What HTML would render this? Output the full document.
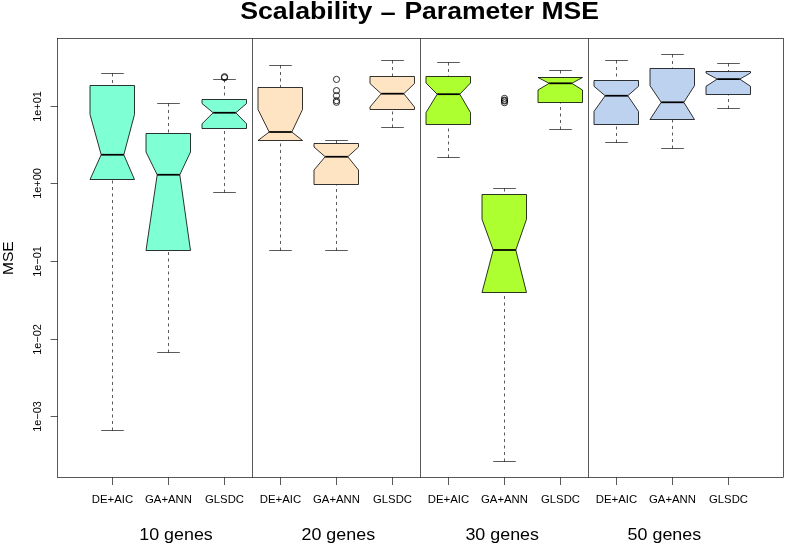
<!DOCTYPE html>
<html lang="en"><head><meta charset="utf-8"><title>Scalability - Parameter MSE</title>
<style>html,body{margin:0;padding:0;background:#fff}svg{display:block}</style></head>
<body>
<svg width="785" height="546" viewBox="0 0 785 546" font-family="&quot;Liberation Sans&quot;, Arial, Helvetica, sans-serif" fill="#000">
<rect width="785" height="546" fill="#fff"/>
<path d="M112.50 73.50V85.50M112.50 430.50V179.50" stroke="#000" stroke-width="0.65" stroke-dasharray="3 3.5" fill="none"/>
<path d="M101.20 73.50H123.80M101.20 430.50H123.80" stroke="#000" stroke-width="0.65" fill="none"/>
<path d="M90.00 85.50L134.50 85.50L134.50 114.50L123.80 154.75L134.50 179.50L134.50 179.50L90.00 179.50L90.00 179.50L101.20 154.75L90.00 114.50Z" fill="#7FFFD4" stroke="#000" stroke-width="0.8" stroke-linejoin="miter" stroke-miterlimit="2"/>
<path d="M101.20 154.75H123.80" stroke="#000" stroke-width="1.75" fill="none"/>
<path d="M168.50 103.50V133.50M168.50 352.50V250.50" stroke="#000" stroke-width="0.65" stroke-dasharray="3 3.5" fill="none"/>
<path d="M157.20 103.50H179.80M157.20 352.50H179.80" stroke="#000" stroke-width="0.65" fill="none"/>
<path d="M146.00 133.50L190.50 133.50L190.50 152.00L179.80 174.75L190.50 250.50L190.50 250.50L146.00 250.50L146.00 250.50L157.20 174.75L146.00 152.00Z" fill="#7FFFD4" stroke="#000" stroke-width="0.8" stroke-linejoin="miter" stroke-miterlimit="2"/>
<path d="M157.20 174.75H179.80" stroke="#000" stroke-width="1.75" fill="none"/>
<path d="M224.50 79.50V99.50M224.50 192.50V128.50" stroke="#000" stroke-width="0.65" stroke-dasharray="3 3.5" fill="none"/>
<path d="M213.20 79.50H235.80M213.20 192.50H235.80" stroke="#000" stroke-width="0.65" fill="none"/>
<path d="M202.00 99.50L246.50 99.50L246.50 103.50L235.80 112.75L246.50 123.75L246.50 128.50L202.00 128.50L202.00 123.75L213.20 112.75L202.00 103.50Z" fill="#7FFFD4" stroke="#000" stroke-width="0.8" stroke-linejoin="miter" stroke-miterlimit="2"/>
<path d="M213.20 112.75H235.80" stroke="#000" stroke-width="1.75" fill="none"/>
<circle cx="224.50" cy="76.70" r="3.1" fill="none" stroke="#000" stroke-width="0.8"/>
<circle cx="224.50" cy="77.70" r="3.1" fill="none" stroke="#000" stroke-width="0.8"/>
<path d="M280.50 65.50V87.50M280.50 250.50V140.50" stroke="#000" stroke-width="0.65" stroke-dasharray="3 3.5" fill="none"/>
<path d="M269.20 65.50H291.80M269.20 250.50H291.80" stroke="#000" stroke-width="0.65" fill="none"/>
<path d="M258.00 87.50L302.50 87.50L302.50 109.50L291.80 132.00L302.50 140.50L302.50 140.50L258.00 140.50L258.00 140.50L269.20 132.00L258.00 109.50Z" fill="#FFE4C4" stroke="#000" stroke-width="0.8" stroke-linejoin="miter" stroke-miterlimit="2"/>
<path d="M269.20 132.00H291.80" stroke="#000" stroke-width="1.75" fill="none"/>
<path d="M336.50 140.50V143.50M336.50 250.50V184.50" stroke="#000" stroke-width="0.65" stroke-dasharray="3 3.5" fill="none"/>
<path d="M325.20 140.50H347.80M325.20 250.50H347.80" stroke="#000" stroke-width="0.65" fill="none"/>
<path d="M314.00 143.50L358.50 143.50L358.50 147.00L347.80 156.75L358.50 170.00L358.50 184.50L314.00 184.50L314.00 170.00L325.20 156.75L314.00 147.00Z" fill="#FFE4C4" stroke="#000" stroke-width="0.8" stroke-linejoin="miter" stroke-miterlimit="2"/>
<path d="M325.20 156.75H347.80" stroke="#000" stroke-width="1.75" fill="none"/>
<circle cx="336.50" cy="79.40" r="3.1" fill="none" stroke="#000" stroke-width="0.8"/>
<circle cx="336.50" cy="90.60" r="3.1" fill="none" stroke="#000" stroke-width="0.8"/>
<circle cx="336.50" cy="95.65" r="3.1" fill="none" stroke="#000" stroke-width="0.8"/>
<circle cx="336.50" cy="100.65" r="3.1" fill="none" stroke="#000" stroke-width="0.8"/>
<circle cx="336.50" cy="102.30" r="3.1" fill="none" stroke="#000" stroke-width="0.8"/>
<path d="M392.50 60.50V76.50M392.50 127.50V109.50" stroke="#000" stroke-width="0.65" stroke-dasharray="3 3.5" fill="none"/>
<path d="M381.20 60.50H403.80M381.20 127.50H403.80" stroke="#000" stroke-width="0.65" fill="none"/>
<path d="M370.00 76.50L414.50 76.50L414.50 83.50L403.80 93.70L414.50 107.00L414.50 109.50L370.00 109.50L370.00 107.00L381.20 93.70L370.00 83.50Z" fill="#FFE4C4" stroke="#000" stroke-width="0.8" stroke-linejoin="miter" stroke-miterlimit="2"/>
<path d="M381.20 93.70H403.80" stroke="#000" stroke-width="1.75" fill="none"/>
<path d="M448.50 62.50V76.50M448.50 157.50V124.50" stroke="#000" stroke-width="0.65" stroke-dasharray="3 3.5" fill="none"/>
<path d="M437.20 62.50H459.80M437.20 157.50H459.80" stroke="#000" stroke-width="0.65" fill="none"/>
<path d="M426.00 76.50L470.50 76.50L470.50 83.00L459.80 94.20L470.50 112.60L470.50 124.50L426.00 124.50L426.00 112.60L437.20 94.20L426.00 83.00Z" fill="#ADFF2F" stroke="#000" stroke-width="0.8" stroke-linejoin="miter" stroke-miterlimit="2"/>
<path d="M437.20 94.20H459.80" stroke="#000" stroke-width="1.75" fill="none"/>
<path d="M504.50 188.50V194.50M504.50 461.50V292.50" stroke="#000" stroke-width="0.65" stroke-dasharray="3 3.5" fill="none"/>
<path d="M493.20 188.50H515.80M493.20 461.50H515.80" stroke="#000" stroke-width="0.65" fill="none"/>
<path d="M482.00 194.50L526.50 194.50L526.50 219.25L515.80 250.00L526.50 292.50L526.50 292.50L482.00 292.50L482.00 292.50L493.20 250.00L482.00 219.25Z" fill="#ADFF2F" stroke="#000" stroke-width="0.8" stroke-linejoin="miter" stroke-miterlimit="2"/>
<path d="M493.20 250.00H515.80" stroke="#000" stroke-width="1.75" fill="none"/>
<circle cx="504.50" cy="98.40" r="3.1" fill="none" stroke="#000" stroke-width="0.8"/>
<circle cx="504.50" cy="100.20" r="3.1" fill="none" stroke="#000" stroke-width="0.8"/>
<circle cx="504.50" cy="101.00" r="3.1" fill="none" stroke="#000" stroke-width="0.8"/>
<circle cx="504.50" cy="102.70" r="3.1" fill="none" stroke="#000" stroke-width="0.8"/>
<path d="M560.50 70.50V77.50M560.50 129.50V102.50" stroke="#000" stroke-width="0.65" stroke-dasharray="3 3.5" fill="none"/>
<path d="M549.20 70.50H571.80M549.20 129.50H571.80" stroke="#000" stroke-width="0.65" fill="none"/>
<path d="M538.00 77.50L582.50 77.50L582.50 77.50L571.80 83.30L582.50 90.00L582.50 102.50L538.00 102.50L538.00 90.00L549.20 83.30L538.00 77.50Z" fill="#ADFF2F" stroke="#000" stroke-width="0.8" stroke-linejoin="miter" stroke-miterlimit="2"/>
<path d="M549.20 83.30H571.80" stroke="#000" stroke-width="1.75" fill="none"/>
<path d="M616.50 60.50V80.50M616.50 142.50V124.50" stroke="#000" stroke-width="0.65" stroke-dasharray="3 3.5" fill="none"/>
<path d="M605.20 60.50H627.80M605.20 142.50H627.80" stroke="#000" stroke-width="0.65" fill="none"/>
<path d="M594.00 80.50L638.50 80.50L638.50 86.30L627.80 95.75L638.50 111.40L638.50 124.50L594.00 124.50L594.00 111.40L605.20 95.75L594.00 86.30Z" fill="#BCD2EE" stroke="#000" stroke-width="0.8" stroke-linejoin="miter" stroke-miterlimit="2"/>
<path d="M605.20 95.75H627.80" stroke="#000" stroke-width="1.75" fill="none"/>
<path d="M672.50 54.50V68.50M672.50 148.50V119.50" stroke="#000" stroke-width="0.65" stroke-dasharray="3 3.5" fill="none"/>
<path d="M661.20 54.50H683.80M661.20 148.50H683.80" stroke="#000" stroke-width="0.65" fill="none"/>
<path d="M650.00 68.50L694.50 68.50L694.50 85.70L683.80 102.30L694.50 119.50L694.50 119.50L650.00 119.50L650.00 119.50L661.20 102.30L650.00 85.70Z" fill="#BCD2EE" stroke="#000" stroke-width="0.8" stroke-linejoin="miter" stroke-miterlimit="2"/>
<path d="M661.20 102.30H683.80" stroke="#000" stroke-width="1.75" fill="none"/>
<path d="M728.50 63.50V71.50M728.50 108.50V94.50" stroke="#000" stroke-width="0.65" stroke-dasharray="3 3.5" fill="none"/>
<path d="M717.20 63.50H739.80M717.20 108.50H739.80" stroke="#000" stroke-width="0.65" fill="none"/>
<path d="M706.00 71.50L750.50 71.50L750.50 73.00L739.80 79.10L750.50 86.30L750.50 94.50L706.00 94.50L706.00 86.30L717.20 79.10L706.00 73.00Z" fill="#BCD2EE" stroke="#000" stroke-width="0.8" stroke-linejoin="miter" stroke-miterlimit="2"/>
<path d="M717.20 79.10H739.80" stroke="#000" stroke-width="1.75" fill="none"/>
<rect x="57.5" y="38.5" width="726.0" height="439.0" fill="none" stroke="#000" stroke-width="0.65"/>
<path d="M252.50 38.5V477.5" stroke="#000" stroke-width="0.65"/>
<path d="M420.50 38.5V477.5" stroke="#000" stroke-width="0.65"/>
<path d="M588.50 38.5V477.5" stroke="#000" stroke-width="0.65"/>
<path d="M50.6 106.50H57.5" stroke="#000" stroke-width="0.65"/>
<text transform="translate(41.2 106.50) rotate(-90)" text-anchor="middle" font-size="10.6" textLength="30.6" lengthAdjust="spacingAndGlyphs">1e+01</text>
<path d="M50.6 183.50H57.5" stroke="#000" stroke-width="0.65"/>
<text transform="translate(41.2 183.50) rotate(-90)" text-anchor="middle" font-size="10.6" textLength="30.6" lengthAdjust="spacingAndGlyphs">1e+00</text>
<path d="M50.6 261.50H57.5" stroke="#000" stroke-width="0.65"/>
<text transform="translate(41.2 261.50) rotate(-90)" text-anchor="middle" font-size="10.6" textLength="30.6" lengthAdjust="spacingAndGlyphs">1e−01</text>
<path d="M50.6 339.50H57.5" stroke="#000" stroke-width="0.65"/>
<text transform="translate(41.2 339.50) rotate(-90)" text-anchor="middle" font-size="10.6" textLength="30.6" lengthAdjust="spacingAndGlyphs">1e−02</text>
<path d="M50.6 416.50H57.5" stroke="#000" stroke-width="0.65"/>
<text transform="translate(41.2 416.50) rotate(-90)" text-anchor="middle" font-size="10.6" textLength="30.6" lengthAdjust="spacingAndGlyphs">1e−03</text>
<text transform="translate(13 258.2) rotate(-90)" text-anchor="middle" font-size="15.2" textLength="33.6" lengthAdjust="spacingAndGlyphs">MSE</text>
<path d="M112.50 477.5V485" stroke="#000" stroke-width="0.65"/>
<text x="112.50" y="503" text-anchor="middle" font-size="10.6" textLength="41.4" lengthAdjust="spacingAndGlyphs">DE+AIC</text>
<path d="M168.50 477.5V485" stroke="#000" stroke-width="0.65"/>
<text x="168.50" y="503" text-anchor="middle" font-size="10.6" textLength="46.9" lengthAdjust="spacingAndGlyphs">GA+ANN</text>
<path d="M224.50 477.5V485" stroke="#000" stroke-width="0.65"/>
<text x="224.50" y="503" text-anchor="middle" font-size="10.6" textLength="38.9" lengthAdjust="spacingAndGlyphs">GLSDC</text>
<path d="M280.50 477.5V485" stroke="#000" stroke-width="0.65"/>
<text x="280.50" y="503" text-anchor="middle" font-size="10.6" textLength="41.4" lengthAdjust="spacingAndGlyphs">DE+AIC</text>
<path d="M336.50 477.5V485" stroke="#000" stroke-width="0.65"/>
<text x="336.50" y="503" text-anchor="middle" font-size="10.6" textLength="46.9" lengthAdjust="spacingAndGlyphs">GA+ANN</text>
<path d="M392.50 477.5V485" stroke="#000" stroke-width="0.65"/>
<text x="392.50" y="503" text-anchor="middle" font-size="10.6" textLength="38.9" lengthAdjust="spacingAndGlyphs">GLSDC</text>
<path d="M448.50 477.5V485" stroke="#000" stroke-width="0.65"/>
<text x="448.50" y="503" text-anchor="middle" font-size="10.6" textLength="41.4" lengthAdjust="spacingAndGlyphs">DE+AIC</text>
<path d="M504.50 477.5V485" stroke="#000" stroke-width="0.65"/>
<text x="504.50" y="503" text-anchor="middle" font-size="10.6" textLength="46.9" lengthAdjust="spacingAndGlyphs">GA+ANN</text>
<path d="M560.50 477.5V485" stroke="#000" stroke-width="0.65"/>
<text x="560.50" y="503" text-anchor="middle" font-size="10.6" textLength="38.9" lengthAdjust="spacingAndGlyphs">GLSDC</text>
<path d="M616.50 477.5V485" stroke="#000" stroke-width="0.65"/>
<text x="616.50" y="503" text-anchor="middle" font-size="10.6" textLength="41.4" lengthAdjust="spacingAndGlyphs">DE+AIC</text>
<path d="M672.50 477.5V485" stroke="#000" stroke-width="0.65"/>
<text x="672.50" y="503" text-anchor="middle" font-size="10.6" textLength="46.9" lengthAdjust="spacingAndGlyphs">GA+ANN</text>
<path d="M728.50 477.5V485" stroke="#000" stroke-width="0.65"/>
<text x="728.50" y="503" text-anchor="middle" font-size="10.6" textLength="38.9" lengthAdjust="spacingAndGlyphs">GLSDC</text>
<text x="176.0" y="539.6" text-anchor="middle" font-size="16.2" textLength="73.6" lengthAdjust="spacingAndGlyphs">10 genes</text>
<text x="338.3" y="539.6" text-anchor="middle" font-size="16.2" textLength="73.6" lengthAdjust="spacingAndGlyphs">20 genes</text>
<text x="502.2" y="539.6" text-anchor="middle" font-size="16.2" textLength="73.6" lengthAdjust="spacingAndGlyphs">30 genes</text>
<text x="664.4" y="539.6" text-anchor="middle" font-size="16.2" textLength="73.6" lengthAdjust="spacingAndGlyphs">50 genes</text>
<g font-size="24.8" font-weight="bold">
<text x="240.2" y="18.8" textLength="132.2" lengthAdjust="spacingAndGlyphs">Scalability</text>
<text x="380.4" y="20.2" textLength="15.2" lengthAdjust="spacingAndGlyphs">–</text>
<text x="404.4" y="18.8" textLength="194.6" lengthAdjust="spacingAndGlyphs">Parameter MSE</text>
</g>
</svg>
</body></html>
